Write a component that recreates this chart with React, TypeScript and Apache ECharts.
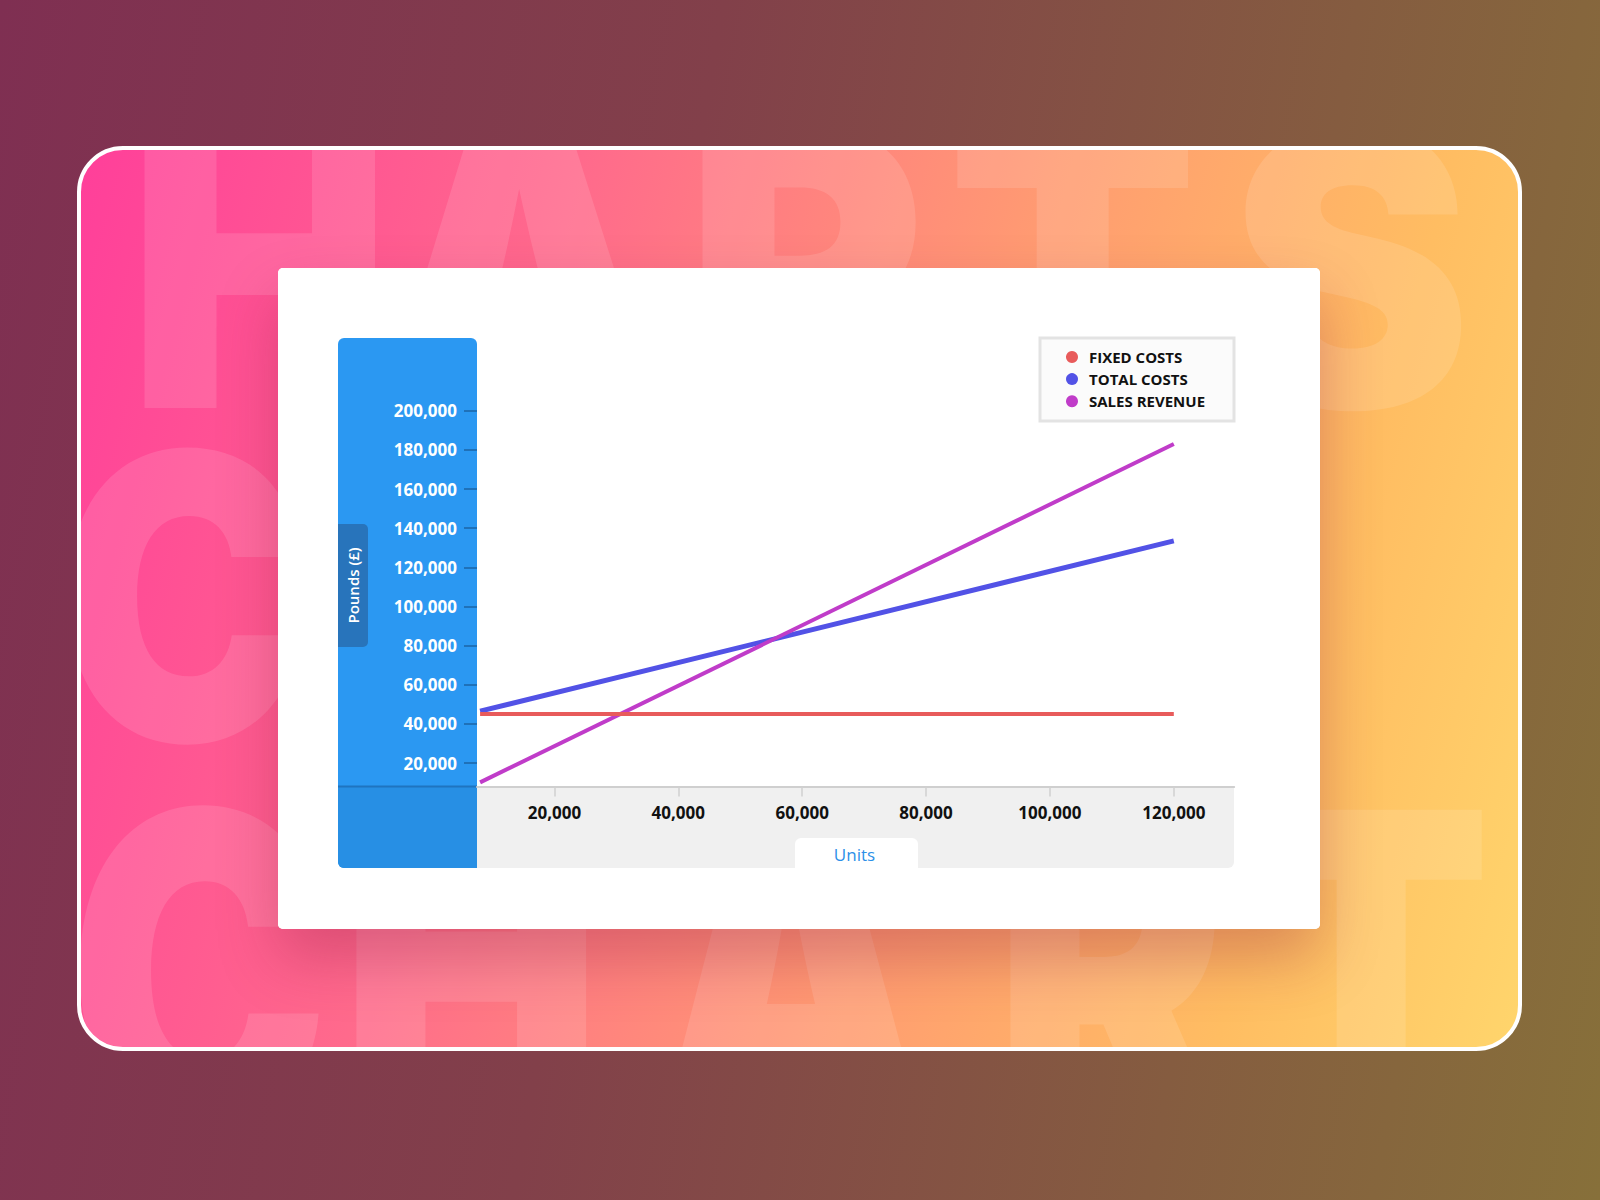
import React, { useEffect, useRef } from "react";
import * as echarts from "echarts";

// ---- data ----
const UNITS = [8000, 120000];
const FIXED_COSTS = [45000, 45000];
const TOTAL_COSTS = [46500, 133500];
const SALES_REVENUE = [10100, 183000];
const SERIES_NAMES = ["FIXED COSTS", "TOTAL COSTS", "SALES REVENUE"];
const SERIES_COLORS = ["#e85b5b", "#5252e6", "#c03cc9"];
const Y_TICKS = [20000, 40000, 60000, 80000, 100000, 120000, 140000, 160000, 180000, 200000];
const X_TICKS = [20000, 40000, 60000, 80000, 100000, 120000];
const Y_TITLE = "Pounds (£)";
const X_TITLE = "Units";
// background watermark letters (decorative, partly hidden behind the chart panel)
const WM_TOP = ["H", "A", "R", "T", "S"];
const WM_MID = ["C"];
const WM_BOTTOM = ["C", "H", "A", "R", "T"];

const fmt = (v: number) => v.toLocaleString("en-US");

const PANEL_W = 1042;
const PANEL_H = 661;

function Chart() {
  const ref = useRef<HTMLDivElement>(null);
  useEffect(() => {
    if (!ref.current) return;
    const chart = echarts.init(ref.current, undefined, { renderer: "svg" });
    const font = "'Open Sans', sans-serif";
    const gridLeft = 199;
    const gridTop = 69.4;
    const gridW = 757.2;
    const gridBottomY = 518.5;
    const seriesData = [FIXED_COSTS, TOTAL_COSTS, SALES_REVENUE];
    chart.setOption({
      animation: false,
      backgroundColor: "#ffffff",
      textStyle: { fontFamily: font },
      graphic: [
        { type: "rect", z: -10, shape: { x: 60, y: 70, width: 139, height: 530, r: 6 }, style: { fill: "#2b98f2" } },
        { type: "rect", z: -9, shape: { x: 60, y: gridBottomY, width: 139, height: 600 - gridBottomY, r: [0, 0, 0, 6] }, style: { fill: "#278fe4" } },
        { type: "line", z: -8, shape: { x1: 60, y1: gridBottomY, x2: 199, y2: gridBottomY }, style: { stroke: "#1f74c0", lineWidth: 2 } },
        { type: "rect", z: -9, shape: { x: 199, y: gridBottomY, width: 757, height: 600 - gridBottomY, r: [0, 0, 6, 0] }, style: { fill: "#f0f0f0" } },
        { type: "rect", z: -7, shape: { x: 517, y: 570, width: 123, height: 30, r: [6, 6, 0, 0] }, style: { fill: "#ffffff" } },
        { type: "text", z: -6, x: 576.5, y: 586, style: { text: X_TITLE, fill: "#2b8fe8", font: `17px ${font}`, align: "center", verticalAlign: "middle" } },
        { type: "rect", z: -7, shape: { x: 60, y: 256, width: 30, height: 123, r: [0, 5, 5, 0] }, style: { fill: "#2874bb" } },
        { type: "text", z: -6, x: 75, y: 317.5, rotation: Math.PI / 2, style: { text: Y_TITLE, fill: "#ffffff", font: `600 15px ${font}`, align: "center", verticalAlign: "middle" } },
        { type: "rect", z: -7, shape: { x: 762, y: 70, width: 194, height: 83 }, style: { fill: "#fbfbfb", stroke: "#e3e3e3", lineWidth: 3 } },
      ],
      legend: {
        orient: "vertical",
        left: 783,
        top: 76.5,
        itemWidth: 12,
        itemHeight: 12,
        itemGap: 7.1,
        icon: "circle",
        data: SERIES_NAMES,
        textStyle: { fontSize: 15, fontWeight: "bold", color: "#111", fontFamily: font, lineHeight: 14, padding: [0, 0, 0, 6] },
      },
      grid: { left: gridLeft, top: gridTop, width: gridW, height: gridBottomY - gridTop, containLabel: false, outerBoundsMode: "none" },
      xAxis: {
        type: "value",
        min: 7500,
        max: 129750,
        axisLine: { show: true, lineStyle: { color: "#cfcfcf", width: 2 } },
        axisTick: { show: true, customValues: X_TICKS, length: 10, lineStyle: { color: "#d0d0d0", width: 1.5 } },
        axisLabel: { customValues: X_TICKS, formatter: (v: number) => fmt(v), fontSize: 17, fontWeight: "bold", color: "#111", margin: 17, fontFamily: font },
        splitLine: { show: false },
      },
      yAxis: {
        type: "value",
        min: 8000,
        max: 237500,
        axisLine: { show: false },
        axisTick: { show: true, customValues: Y_TICKS, length: 13, lineStyle: { color: "#1c64a6", width: 1.5 } },
        axisLabel: { customValues: Y_TICKS, formatter: (v: number) => fmt(v), fontSize: 17, fontWeight: "bold", color: "#ffffff", margin: 20, fontFamily: font },
        splitLine: { show: false },
      },
      series: SERIES_NAMES.map((name, i) => ({
        name,
        type: "line",
        showSymbol: false,
        symbol: "circle",
        z: i === 1 ? 1 : i === 2 ? 2 : 3,
        color: SERIES_COLORS[i],
        lineStyle: { width: i === 1 ? 5 : 4, color: SERIES_COLORS[i] },
        data: UNITS.map((u, k) => [u, seriesData[i][k]]),
      })),
    });
    return () => chart.dispose();
  }, []);
  return <div ref={ref} style={{ width: PANEL_W, height: PANEL_H }} />;
}

// card content origin on the page (inside its 4px border)
const CARD_X = 81;
const CARD_Y = 150;

type Clip = { x0: number; y0: number; x1: number; y1: number };

function Letter(props: { ch: string; left: number; capTop: number; size: number; scaleY: number; clip: Clip }) {
  const { ch, left, capTop, size, scaleY, clip } = props;
  const divTop = capTop - 0.137 * size * scaleY;
  return (
    <div
      style={{
        position: "absolute",
        left: clip.x0 - CARD_X,
        top: clip.y0 - CARD_Y,
        width: clip.x1 - clip.x0,
        height: clip.y1 - clip.y0,
        overflow: "hidden",
        pointerEvents: "none",
      }}
    >
      <div
        style={{
          position: "absolute",
          left: left - 0.04 * size - clip.x0,
          top: divTop - clip.y0,
          fontFamily: "Inter, 'Open Sans', sans-serif",
          fontWeight: 900,
          fontSize: size,
          lineHeight: 1,
          color: "rgba(255,255,255,0.12)",
          whiteSpace: "nowrap",
          transform: `scaleY(${scaleY})`,
          transformOrigin: "0 0",
        }}
      >
        {ch}
      </div>
    </div>
  );
}

export default function App() {
  const aboveLegend: Clip = { x0: 81, y0: 150, x1: 1518, y1: 268 };
  const topSide: Clip = { x0: 81, y0: 150, x1: 375, y1: 440 };
  const topRight: Clip = { x0: 1236, y0: 150, x1: 1518, y1: 470 };
  const belowPanel: Clip = { x0: 81, y0: 929, x1: 1518, y1: 1047 };
  const leftBand: Clip = { x0: 81, y0: 380, x1: 337, y1: 800 };
  const bottomLeft: Clip = { x0: 81, y0: 780, x1: 345, y1: 1047 };
  const bottomRight: Clip = { x0: 1250, y0: 780, x1: 1518, y1: 1047 };

  const topX = [142, 391, 700, 962, 1243];
  const topClip = [topSide, aboveLegend, aboveLegend, aboveLegend, topRight];
  const botX = [82, 354, 667, 1008, 1265];
  const botClip = [bottomLeft, belowPanel, belowPanel, belowPanel, bottomRight];

  return (
    <div
      style={{
        position: "absolute",
        left: 0,
        top: 0,
        width: 1600,
        height: 1200,
        overflow: "hidden",
        background: "linear-gradient(100deg, #7f2f52 0%, #82404a 40%, #855c40 75%, #87703a 100%)",
      }}
    >
      <div
        style={{
          position: "absolute",
          left: 77,
          top: 146,
          width: 1445,
          height: 905,
          boxSizing: "border-box",
          border: "4px solid #ffffff",
          borderRadius: 46,
          overflow: "hidden",
          background: "linear-gradient(105deg, #ff3f9a 0%, #ff6a8c 30%, #ff9a72 58%, #ffbd62 82%, #ffd56c 100%)",
        }}
      >
        {WM_TOP.map((ch, i) => (
          <Letter key={"t" + i} ch={ch} left={topX[i]} capTop={127} size={365} scaleY={1.06} clip={topClip[i]} />
        ))}
        {WM_MID.map((ch, i) => (
          <Letter key={"m" + i} ch={ch} left={70} capTop={452} size={340} scaleY={1.17} clip={leftBand} />
        ))}
        {WM_BOTTOM.map((ch, i) => (
          <Letter key={"b" + i} ch={ch} left={botX[i]} capTop={810} size={350} scaleY={1.26} clip={botClip[i]} />
        ))}
      </div>
      <div
        style={{
          position: "absolute",
          left: 278,
          top: 268,
          width: PANEL_W,
          height: PANEL_H,
          borderRadius: 5,
          overflow: "hidden",
          background: "#ffffff",
          boxShadow: "0 30px 60px rgba(140,20,60,0.30)",
        }}
      >
        <Chart />
      </div>
    </div>
  );
}
